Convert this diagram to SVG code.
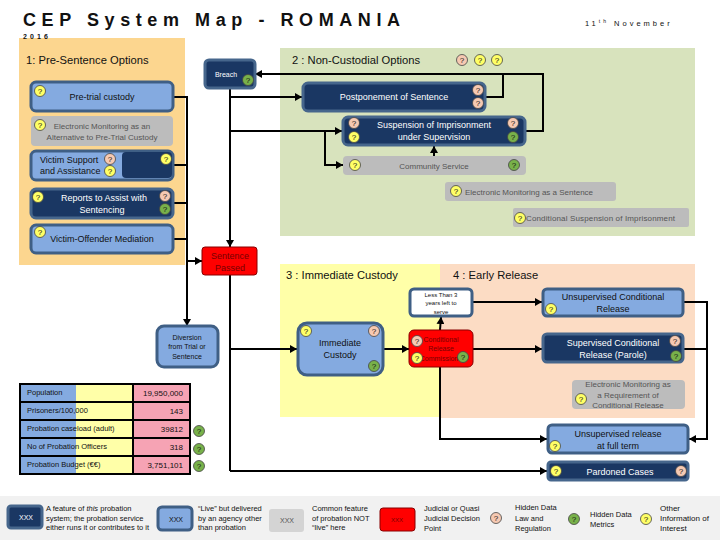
<svg xmlns="http://www.w3.org/2000/svg" width="720" height="540" viewBox="0 0 720 540">
<style>
text{font-family:"Liberation Sans",Arial,sans-serif;fill:#111;text-anchor:middle}
.l{text-anchor:start}
.r{text-anchor:end}
.w{fill:#fff}
.g{fill:#555}
.hd{font-size:11.2px;text-anchor:start}
.n9{font-size:9px}
.n8{font-size:8px}
.n7{font-size:7px}
.n6{font-size:6px}
.t{font-size:7.5px;text-anchor:start}
.dark{fill:#1a3763;stroke:#46668c;stroke-width:3}
.light{fill:#84aae0;stroke:#3f5f85;stroke-width:3}
.white{fill:#fff;stroke:#3f5f85;stroke-width:3}
.grey{fill:#bcbcbc}
.red{fill:#f00;stroke:#800;stroke-width:1}
.rt{fill:#700}
.c{fill:none;stroke:#000;stroke-width:2}
.a{marker-end:url(#arr)}
.q{font-size:8px}
.tb{fill:none;stroke:#000;stroke-width:2}
</style>
<defs>
<marker id="arr" markerUnits="userSpaceOnUse" markerWidth="8" markerHeight="8" refX="7" refY="4" orient="auto"><path d="M0 0L7 4L0 8z" fill="#000"/></marker>
<g id="qp"><circle r="5.5" fill="#f6c9b2" stroke="#444" stroke-width=".8"/><text class="q" y="3">?</text></g>
<g id="qy"><circle r="5.5" fill="#ffff66" stroke="#444" stroke-width=".8"/><text class="q" y="3">?</text></g>
<g id="qg"><circle r="5.5" fill="#78b14a" stroke="#444" stroke-width=".8"/><text class="q" y="3">?</text></g>
</defs>
<rect width="720" height="540" fill="#fff"/>
<g id="panels">
<rect x="19" y="38" width="166" height="227" fill="#fcd68f"/>
<rect x="280" y="48" width="415" height="188" fill="#d8e3bd"/>
<rect x="280" y="264" width="160" height="153" fill="#ffffa8"/>
<rect x="440" y="264" width="255" height="154" fill="#fcdcc4"/>
<rect x="0" y="496" width="720" height="44" fill="#f1f1f1"/>
</g>
<g id="titles">
<text class="l" x="23" y="26" font-size="18" font-weight="bold" textLength="377" lengthAdjust="spacing">CEP System Map - ROMANIA</text>
<text class="l n7" x="23" y="39" font-weight="bold" textLength="25" lengthAdjust="spacing">2016</text>
<text class="l" x="585" y="26" font-size="7.5" letter-spacing="3">11<tspan font-size="5" dy="-3">th</tspan><tspan dy="3"> November</tspan></text>
<text class="hd" x="26" y="64">1: Pre-Sentence Options</text>
<text class="hd" x="292" y="64">2 : Non-Custodial Options</text>
<text class="hd" x="286" y="279">3 : Immediate Custody</text>
<text class="hd" x="453" y="279">4 : Early Release</text>
<use href="#qp" x="462" y="60"/><use href="#qy" x="480" y="60"/><use href="#qy" x="497" y="60"/>
</g>
<g id="connectors">
<path class="c a" d="M172 97H187V326"/>
<path class="c" d="M172 165H187M172 203H187M172 239H187"/>
<path class="c a" d="M187 261H202"/>
<path class="c a" d="M230 88V247"/>
<path class="c a" d="M230 97H302"/>
<path class="c a" d="M230 131H342"/>
<path class="c a" d="M325 131V165H343"/>
<path class="c a" d="M526 131H543V74H255"/>
<path class="c" d="M486 97H503V74"/>
<path class="c a" d="M434 156V146"/>
<path class="c" d="M230 275V471"/>
<path class="c a" d="M230 349H297"/>
<path class="c a" d="M230 471H547"/>
<path class="c a" d="M383 349H409"/>
<path class="c a" d="M440 330L441 317"/>
<path class="c a" d="M473 302H542"/>
<path class="c a" d="M473 349H542"/>
<path class="c a" d="M440 367V439H547"/>
<path class="c a" d="M684 302H707V439H689"/>
<path class="c" d="M684 349H707"/>
</g>
<g id="n-pretrial"><rect class="light" x="31" y="82" width="142" height="29" rx="5"/><text class="n9" x="102" y="100">Pre-trial custody</text><use href="#qy" x="40" y="91"/></g>
<g id="n-em-alt"><rect class="grey" x="31" y="116" width="142" height="30" rx="4"/><text class="n8 g" x="102" y="129">Electronic Monitoring as an</text><text class="n8 g" x="102" y="140">Alternative to Pre-Trial Custody</text><use href="#qy" x="40" y="125"/></g>
<g id="n-victim"><rect class="light" x="31" y="151" width="142" height="29" rx="5"/><rect x="122" y="152" width="50" height="26" rx="4" fill="#1a3763"/><text class="n9 l" x="40" y="163">Victim Support</text><text class="n9 l" x="40" y="174">and Assistance</text><use href="#qp" x="110" y="159"/><use href="#qy" x="110" y="171"/><use href="#qy" x="166" y="159"/></g>
<g id="n-reports"><rect class="dark" x="31" y="189" width="142" height="29" rx="5"/><text class="n9 w" x="104" y="201">Reports to Assist with</text><text class="n9 w" x="102" y="213">Sentencing</text><use href="#qy" x="38" y="197"/><use href="#qp" x="165" y="196"/><use href="#qg" x="165" y="209"/></g>
<g id="n-vom"><rect class="light" x="31" y="225" width="142" height="28" rx="5"/><text class="n9" x="102" y="242">Victim-Offender Mediation</text><use href="#qy" x="40" y="232"/></g>
<g id="n-breach"><rect class="dark" x="205" y="60" width="50" height="28" rx="4"/><text class="n7 w" x="226" y="77">Breach</text><use href="#qg" x="248" y="80"/></g>
<g id="n-postpone"><rect class="dark" x="303" y="83" width="182" height="28" rx="5"/><text class="n9 w" x="394" y="100">Postponement of Sentence</text><use href="#qp" x="478" y="90"/><use href="#qp" x="478" y="103"/></g>
<g id="n-suspension"><rect class="dark" x="343" y="117" width="182" height="28" rx="5"/><text class="n9 w" x="434" y="128">Suspension of Imprisonment</text><text class="n9 w" x="434" y="140">under Supervision</text><use href="#qp" x="354" y="123"/><use href="#qy" x="354" y="137"/><use href="#qp" x="513" y="123"/><use href="#qg" x="513" y="137"/></g>
<g id="n-community"><rect class="grey" x="343" y="156" width="183" height="19" rx="4"/><text class="n8 g" x="434" y="169">Community Service</text><use href="#qy" x="355" y="165"/><use href="#qg" x="514" y="165"/></g>
<g id="n-em-sentence"><rect class="grey" x="445" y="182" width="171" height="19" rx="3"/><text class="n8 g l" x="465" y="195">Electronic Monitoring as a Sentence</text><use href="#qy" x="456" y="191"/></g>
<g id="n-cond-susp"><rect class="grey" x="513" y="208" width="176" height="19" rx="2"/><text class="n8 g l" x="526" y="221" textLength="149">Conditional Suspension of Imprisonment</text><use href="#qy" x="520" y="218"/></g>
<g id="n-sentence"><rect class="red" x="202" y="247" width="55" height="28" rx="3"/><text class="n9 rt" x="230" y="259">Sentence</text><text class="n9 rt" x="230" y="271">Passed</text></g>
<g id="n-diversion"><rect class="light" x="157" y="326" width="61" height="41" rx="7"/><text class="n7" x="187" y="340">Diversion</text><text class="n7" x="187" y="349">from Trial or</text><text class="n7" x="187" y="359">Sentence</text></g>
<g id="n-immediate"><rect class="light" x="298" y="323" width="85" height="52" rx="9"/><text class="n9" x="340" y="346">Immediate</text><text class="n9" x="340" y="358">Custody</text><use href="#qy" x="306" y="331"/><use href="#qp" x="374" y="331"/><use href="#qg" x="374" y="366"/></g>
<g id="n-less"><rect class="white" x="410" y="289" width="62" height="27" rx="4"/><text class="n6" x="441" y="297">Less Than 3</text><text class="n6" x="441" y="305">years left to</text><text class="n6" x="441" y="314">serve</text></g>
<g id="n-cond-release"><rect class="red" x="409" y="330" width="64" height="37" rx="5"/><text class="n7 rt" x="441" y="342">Conditional</text><text class="n7 rt" x="441" y="351">Release</text><text class="n7 rt" x="439" y="361">Commission</text><use href="#qp" x="417" y="341"/><use href="#qy" x="417" y="358"/><use href="#qg" x="463" y="357"/></g>
<g id="n-unsup-cond"><rect class="light" x="543" y="289" width="140" height="27" rx="4"/><text class="n9" x="613" y="300">Unsupervised Conditional</text><text class="n9" x="613" y="312">Release</text><use href="#qy" x="551" y="309"/></g>
<g id="n-sup-cond"><rect class="dark" x="543" y="334" width="140" height="28" rx="4"/><text class="n9 w" x="613" y="346">Supervised Conditional</text><text class="n9 w" x="613" y="358">Release (Parole)</text><use href="#qp" x="675" y="341"/><use href="#qg" x="676" y="356"/></g>
<g id="n-em-req"><rect class="grey" x="572" y="380" width="113" height="29" rx="4"/><text class="n8 g" x="628" y="387">Electronic Monitoring as</text><text class="n8 g" x="628" y="398">a Requirement of</text><text class="n8 g" x="628" y="408">Conditional Release</text><use href="#qy" x="581" y="399"/></g>
<g id="n-unsup-full"><rect class="light" x="548" y="425" width="140" height="28" rx="4"/><text class="n9" x="618" y="437">Unsupervised release</text><text class="n9" x="618" y="449">at full term</text><use href="#qy" x="555" y="446"/></g>
<g id="n-pardoned"><rect class="dark" x="548" y="462" width="140" height="18" rx="3"/><text class="n9 w" x="620" y="475">Pardoned Cases</text><use href="#qy" x="556" y="471"/><use href="#qp" x="681" y="471"/></g>
<g id="data-table">
<rect x="20" y="384" width="113" height="90" fill="#ffffa8"/>
<rect x="20" y="384" width="56" height="90" fill="#84aae0"/>
<rect x="133" y="384" width="57" height="90" fill="#f6a3b4"/>
<path class="tb" d="M20 384H190V474H20ZM133 384V474M20 402H190M20 420H190M20 438H190M20 456H190"/>
<text class="t" x="27" y="395">Population</text>
<text class="t" x="27" y="413">Prisoners/100,000</text>
<text class="t" x="27" y="431">Probation caseload (adult)</text>
<text class="t" x="27" y="449">No of Probation Officers</text>
<text class="t" x="27" y="467">Probation Budget (€€)</text>
<text class="r n8" x="183" y="396">19,950,000</text>
<text class="r n8" x="183" y="414">143</text>
<text class="r n8" x="183" y="432">39812</text>
<text class="r n8" x="183" y="450">318</text>
<text class="r n8" x="183" y="468">3,751,101</text>
<use href="#qg" x="199" y="431"/><use href="#qg" x="199" y="449"/><use href="#qg" x="199" y="466"/>
</g>
<g id="legend">
<rect class="dark" x="8" y="506" width="34" height="22" rx="3"/><text class="n7 w" x="26" y="520">XXX</text>
<text class="t" x="46" y="511">A feature of <tspan font-style="italic">this</tspan> probation</text><text class="t" x="46" y="521">system; the probation service</text><text class="t" x="46" y="530">either runs it or contributes to it</text>
<rect class="light" x="158" y="507" width="34" height="23" rx="4"/><text class="n7" x="176" y="522">XXX</text>
<text class="t" x="198" y="511">“Live” but delivered</text><text class="t" x="198" y="521">by an agency other</text><text class="t" x="198" y="530">than probation</text>
<rect x="269" y="509" width="35" height="23" rx="3" fill="#d4d4d4"/><text class="n7 g" x="287" y="523">XXX</text>
<text class="t" x="312" y="511">Common feature</text><text class="t" x="312" y="521">of probation NOT</text><text class="t" x="312" y="530">“live” here</text>
<rect class="red" x="380" y="508" width="35" height="23" rx="3"/><text class="n6 rt" x="397" y="522">XXX</text>
<text class="t" x="424" y="511">Judicial or Quasi</text><text class="t" x="424" y="521">Judicial Decision</text><text class="t" x="424" y="531">Point</text>
<use href="#qp" x="496" y="518"/>
<text class="t" x="515" y="510">Hidden Data</text><text class="t" x="515" y="521">Law and</text><text class="t" x="515" y="531">Regulation</text>
<use href="#qg" x="574" y="519"/>
<text class="t" x="590" y="517">Hidden Data</text><text class="t" x="590" y="527">Metrics</text>
<use href="#qy" x="646" y="519"/>
<text class="l n8" x="660" y="511">Other</text><text class="l n8" x="660" y="521">Information of</text><text class="l n8" x="660" y="531">Interest</text>
</g>
</svg>
